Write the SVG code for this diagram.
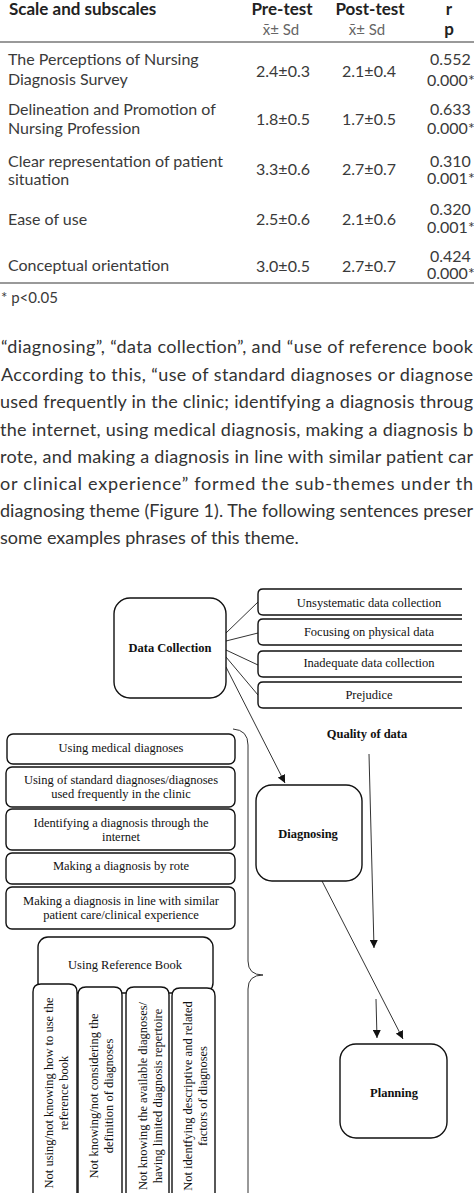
<svg xmlns="http://www.w3.org/2000/svg" width="474" height="1193" viewBox="0 0 474 1193">
<style>
.t{font-family:Lato,"Liberation Sans",sans-serif;font-size:16px;fill:#3a3a3a}
.th{font-family:Lato,"Liberation Sans",sans-serif;font-size:17px;font-weight:bold;fill:#222}
.ts{font-family:Lato,"Liberation Sans",sans-serif;font-size:15px;fill:#666}
.c{text-anchor:middle}
.p{font-family:Lato,"Liberation Sans",sans-serif;font-size:18px;fill:#333}
.rl{stroke:#777;stroke-width:1.5}
.n{font-family:"Liberation Serif",serif;font-size:12.5px;fill:#111;text-anchor:middle}
.b{font-family:"Liberation Serif",serif;font-size:12.5px;font-weight:bold;fill:#111;text-anchor:middle}
.box{fill:#fff;stroke:#111;stroke-width:1.4}
.ln{stroke:#333;stroke-width:1;fill:none}
</style>
<defs>
<marker id="ah" markerWidth="8" markerHeight="8" refX="8" refY="4" orient="auto" markerUnits="userSpaceOnUse"><path d="M0,0 L8,4 L0,8 Z" fill="#111"/></marker>
</defs>
<rect width="474" height="1193" fill="#fff"/>

<g id="table">
<text class="th" x="9" y="15">Scale and subscales</text>
<text class="th c" x="282" y="15">Pre-test</text>
<text class="th c" x="370" y="15">Post-test</text>
<text class="th c" x="449" y="15">r</text>
<text class="ts c" x="281" y="35">x̄± Sd</text>
<text class="ts c" x="367" y="35">x̄± Sd</text>
<text class="th c" x="449" y="35">p</text>
<line class="rl" x1="0" y1="42" x2="474" y2="42"/>

<text class="t" x="8" y="65">The Perceptions of Nursing</text>
<text class="t" x="8" y="85">Diagnosis Survey</text>
<text class="t c" x="283" y="77">2.4±0.3</text>
<text class="t c" x="369" y="77">2.1±0.4</text>
<text class="t" x="430" y="65">0.552</text>
<text class="t" x="427" y="86">0.000*</text>

<text class="t" x="8" y="115">Delineation and Promotion of</text>
<text class="t" x="8" y="134">Nursing Profession</text>
<text class="t c" x="283" y="125">1.8±0.5</text>
<text class="t c" x="369" y="125">1.7±0.5</text>
<text class="t" x="430" y="115">0.633</text>
<text class="t" x="427" y="134">0.000*</text>

<text class="t" x="8" y="167">Clear representation of patient</text>
<text class="t" x="8" y="185">situation</text>
<text class="t c" x="283" y="175">3.3±0.6</text>
<text class="t c" x="369" y="175">2.7±0.7</text>
<text class="t" x="430" y="167">0.310</text>
<text class="t" x="427" y="184">0.001*</text>

<text class="t" x="8" y="225">Ease of use</text>
<text class="t c" x="283" y="225">2.5±0.6</text>
<text class="t c" x="369" y="225">2.1±0.6</text>
<text class="t" x="430" y="215">0.320</text>
<text class="t" x="427" y="233">0.001*</text>

<text class="t" x="8" y="271">Conceptual orientation</text>
<text class="t c" x="283" y="272">3.0±0.5</text>
<text class="t c" x="369" y="272">2.7±0.7</text>
<text class="t" x="430" y="262">0.424</text>
<text class="t" x="427" y="279">0.000*</text>
<line class="rl" x1="0" y1="283" x2="474" y2="283"/>
<text class="t" x="1" y="303" style="font-size:15px">* p&lt;0.05</text>
</g>

<g id="paragraph">
<text class="p" x="1" y="353" textLength="472" lengthAdjust="spacing">“diagnosing”, “data collection”, and “use of reference book</text>
<text class="p" x="1" y="381" textLength="472" lengthAdjust="spacing">According to this, “use of standard diagnoses or diagnose</text>
<text class="p" x="0" y="408" textLength="473" lengthAdjust="spacing">used frequently in the clinic; identifying a diagnosis throug</text>
<text class="p" x="0" y="436" textLength="473" lengthAdjust="spacing">the internet, using medical diagnosis, making a diagnosis b</text>
<text class="p" x="0" y="463" textLength="473" lengthAdjust="spacing">rote, and making a diagnosis in line with similar patient car</text>
<text class="p" x="0" y="490" textLength="473" lengthAdjust="spacing">or clinical experience” formed the sub-themes under th</text>
<text class="p" x="0" y="517" textLength="473" lengthAdjust="spacing">diagnosing theme (Figure 1). The following sentences preser</text>
<text class="p" x="0" y="544">some examples phrases of this theme.</text>
</g>

<g id="connectors">
<line class="ln" x1="226" y1="633" x2="258" y2="602"/>
<line class="ln" x1="226" y1="641" x2="258" y2="633"/>
<line class="ln" x1="226" y1="650" x2="258" y2="665"/>
<line class="ln" x1="226" y1="657" x2="258" y2="695"/>
<line class="ln" x1="226" y1="667" x2="285" y2="783" marker-end="url(#ah)"/>
<line class="ln" x1="369" y1="754" x2="374" y2="948" marker-end="url(#ah)"/>
<line class="ln" x1="376" y1="999" x2="377" y2="1038" marker-end="url(#ah)"/>
<line class="ln" x1="322" y1="881" x2="403" y2="1039" marker-end="url(#ah)"/>
<path class="ln" stroke="#555" d="M233,729 Q248,730 248,745 V961 Q248,975 263,975 Q248,975 248,989 V1193"/>
</g>

<g id="data-collection">
<rect class="box" x="114" y="598" width="112" height="100" rx="16"/>
<text class="b" x="170" y="652">Data Collection</text>
</g>
<g id="dc-1">
<path class="box" d="M462,589 H263 Q258,589 258,594 V610 Q258,615 263,615 H462"/>
<text class="n" x="369" y="607">Unsystematic data collection</text>
</g>
<g id="dc-2">
<path class="box" d="M462,619 H263 Q258,619 258,624 V640 Q258,645 263,645 H462"/>
<text class="n" x="369" y="636">Focusing on physical data</text>
</g>
<g id="dc-3">
<path class="box" d="M462,651 H263 Q258,651 258,656 V672 Q258,677 263,677 H462"/>
<text class="n" x="369" y="667">Inadequate data collection</text>
</g>
<g id="dc-4">
<path class="box" d="M462,682 H263 Q258,682 258,687 V703 Q258,708 263,708 H462"/>
<text class="n" x="369" y="699">Prejudice</text>
</g>

<g id="quality-label">
<text class="b" x="367" y="738">Quality of data</text>
</g>

<g id="diagnosing">
<rect class="box" x="256" y="785" width="106" height="96" rx="16"/>
<text class="b" x="308" y="838">Diagnosing</text>
</g>

<g id="planning">
<rect class="box" x="340" y="1044" width="107" height="94" rx="16"/>
<text class="b" x="394" y="1097">Planning</text>
</g>

<g id="dg-1">
<rect class="box" x="7" y="734" width="228" height="30" rx="6"/>
<text class="n" x="121" y="752">Using medical diagnoses</text>
</g>
<g id="dg-2">
<rect class="box" x="6" y="767" width="229" height="40" rx="6"/>
<text class="n" x="121" y="784">Using of standard diagnoses/diagnoses</text>
<text class="n" x="121" y="798">used frequently in the clinic</text>
</g>
<g id="dg-3">
<rect class="box" x="6" y="809" width="229" height="41" rx="6"/>
<text class="n" x="121" y="827">Identifying a diagnosis through the</text>
<text class="n" x="121" y="841">internet</text>
</g>
<g id="dg-4">
<rect class="box" x="6" y="853" width="229" height="31" rx="6"/>
<text class="n" x="121" y="870">Making a diagnosis by rote</text>
</g>
<g id="dg-5">
<rect class="box" x="6" y="887" width="229" height="42" rx="6"/>
<text class="n" x="121" y="905">Making a diagnosis in line with similar</text>
<text class="n" x="121" y="919">patient care/clinical experience</text>
</g>

<g id="reference-book">
<rect class="box" x="38" y="937" width="175" height="56" rx="10"/>
<text class="n" x="125" y="969">Using Reference Book</text>
</g>
<g id="rb-1">
<path class="box" d="M33,1200 V992 Q33,984 41,984 H69 Q77,984 77,992 V1200"/>
<text class="n" transform="translate(53,1093) rotate(-90)">Not using/not knowing how to use the</text>
<text class="n" transform="translate(68,1093) rotate(-90)">reference book</text>
</g>
<g id="rb-2">
<path class="box" d="M78,1200 V995 Q78,987 86,987 H114 Q122,987 122,995 V1200"/>
<text class="n" transform="translate(98,1096) rotate(-90)">Not knowing/not considering the</text>
<text class="n" transform="translate(113,1096) rotate(-90)">definition of diagnoses</text>
</g>
<g id="rb-3">
<path class="box" d="M126,1200 V995 Q126,987 134,987 H161 Q169,987 169,995 V1200"/>
<text class="n" transform="translate(147,1096) rotate(-90)">Not knowing the available diagnoses/</text>
<text class="n" transform="translate(162,1096) rotate(-90)">having limited diagnosis repertoire</text>
</g>
<g id="rb-4">
<path class="box" d="M172,1200 V996 Q172,988 180,988 H207 Q215,988 215,996 V1200"/>
<text class="n" transform="translate(192,1096) rotate(-90)">Not identfying descriptive and related</text>
<text class="n" transform="translate(207,1096) rotate(-90)">factors of diagnoses</text>
</g>
</svg>
